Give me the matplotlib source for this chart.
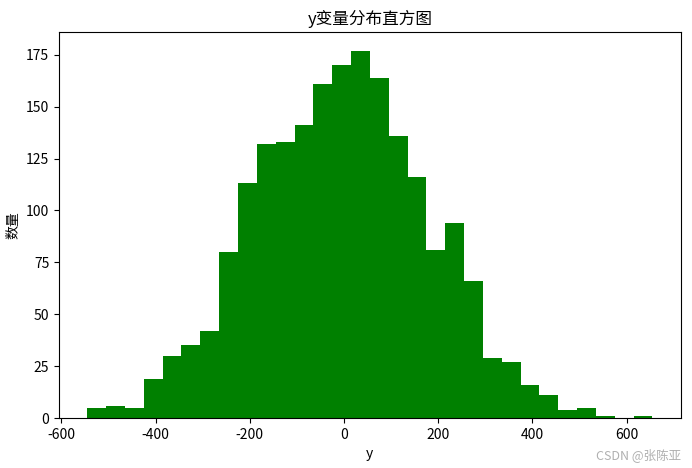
import numpy as np
import matplotlib
matplotlib.use('Agg')
import matplotlib.pyplot as plt

plt.rcParams['font.family'] = ['Noto Sans CJK SC', 'DejaVu Sans']
plt.rcParams['axes.unicode_minus'] = False

# histogram of y: 30 bins, 40 wide
bin_start = -545
bin_width = 40
counts = [5, 6, 5, 19, 30, 35, 42, 80, 113, 132,
          133, 141, 161, 170, 177, 164, 136, 116, 81, 94,
          66, 29, 27, 16, 11, 4, 5, 1, 0, 1]

edges = bin_start + bin_width * np.arange(len(counts) + 1)
centers = (edges[:-1] + edges[1:]) / 2

fig = plt.figure(figsize=(6.92, 4.68), dpi=100)
ax = fig.add_axes([0.0853, 0.1068, 0.8984, 0.8242])
ax.hist(centers, bins=edges, weights=counts, color='green')
ax.set_title('y变量分布直方图', fontsize=12)
ax.set_xlabel('y')
ax.set_ylabel('数量')

fig.text(0.985, 0.012, 'CSDN @张陈亚', ha='right', va='bottom',
         color='#b0b0b0', fontsize=9)

fig.savefig('out.png', dpi=100)
